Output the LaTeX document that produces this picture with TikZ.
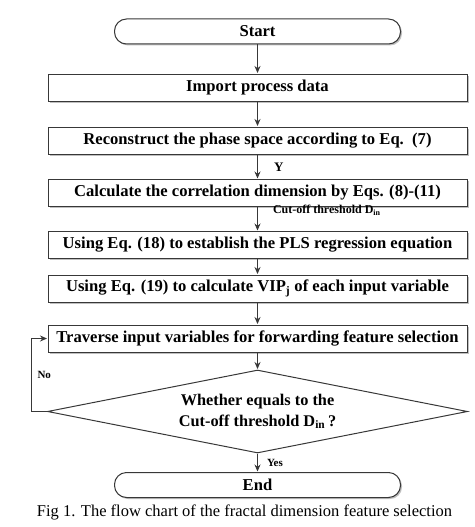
\documentclass[tikz,border=0pt]{standalone}
\usepackage{fontspec}
\setmainfont{Liberation Serif}
\usetikzlibrary{arrows.meta,shapes.geometric,shadows}

\begin{document}
\begin{tikzpicture}[>={Stealth[length=7pt,width=6pt]},shorten >=0.5pt,auto,node distance=52pt,x=1pt,y=1pt,
    line width=1pt,
    process/.style={rectangle,draw=black!78,fill=white,minimum width=419pt,minimum height=27pt,inner sep=0pt,
      font=\fontsize{16.6}{18}\selectfont\bfseries,
      drop shadow={shadow xshift=1.5pt,shadow yshift=-1.5pt,fill=black!25,opacity=1,draw=none}},
    terminal/.style={process,rounded corners=12pt,minimum width=286pt,minimum height=25pt},
    decision/.style={diamond,draw=black!78,shape aspect=5,minimum width=420pt,minimum height=83pt,
      inner sep=0pt,align=center,font=\fontsize{16.3}{21}\selectfont\bfseries},
    lbl/.style={font=\fontsize{12}{14}\selectfont\bfseries,inner sep=1pt,anchor=west}]
      \useasboundingbox (0,0) rectangle (474,-527);

      \node[terminal] (start) at (257.5,-31.5) {Start};
      \node[process] (import) [below of=start,node distance=56pt] {Import process data};
      \node[process] (phase) [below of=import,node distance=53pt] {Reconstruct the phase space according to Eq.~~(7)};
      \node[process] (corr) [below of=phase,node distance=52.5pt] {Calculate the correlation dimension by Eqs. (8)-(11)};
      \node[process] (pls) [below of=corr] {Using Eq. (18) to establish the PLS regression equation};
      \node[process] (vip) [below of=pls,node distance=43.5pt] {Using Eq. (19) to calculate VIP\textsubscript{j} of each input variable};
      \node[process] (traverse) [below of=vip,node distance=50pt] {Traverse input variables for forwarding feature selection};

      \node[decision] (check) [below of=traverse,node distance=73pt] {Whether equals to the\\Cut-off threshold D\textsubscript{in}\,?};

      \node[terminal] (finish) [below of=check,node distance=73.5pt] {End};
      \node (caption) [below of=finish,node distance=27pt,xshift=-13pt,
        font=\fontsize{16.5}{18}\selectfont] {Fig 1. The flow chart of the fractal dimension feature selection};

      \path[->,draw=black!78]
      (start) edge (import)
      (import) edge (phase)
      (phase) edge node[lbl,xshift=15pt,font=\fontsize{13}{15}\selectfont\bfseries] {Y} (corr)
      (corr) edge node[lbl,pos=0.12,xshift=14pt] {Cut-off threshold D\textsubscript{in}} (pls)
      (pls) edge (vip)
      (vip) edge (traverse)
      (traverse) edge (check)
      (check) edge node[lbl,xshift=8pt,font=\fontsize{11}{13}\selectfont\bfseries] {Yes} (finish)
      ;

      \draw[->,draw=black!78] (check.west) -- ++(-16,0) coordinate (back)
        |- node[lbl,pos=0.25,xshift=5pt,font=\fontsize{11}{13}\selectfont\bfseries] {No} (traverse.west);
    \end{tikzpicture}
\end{document}
